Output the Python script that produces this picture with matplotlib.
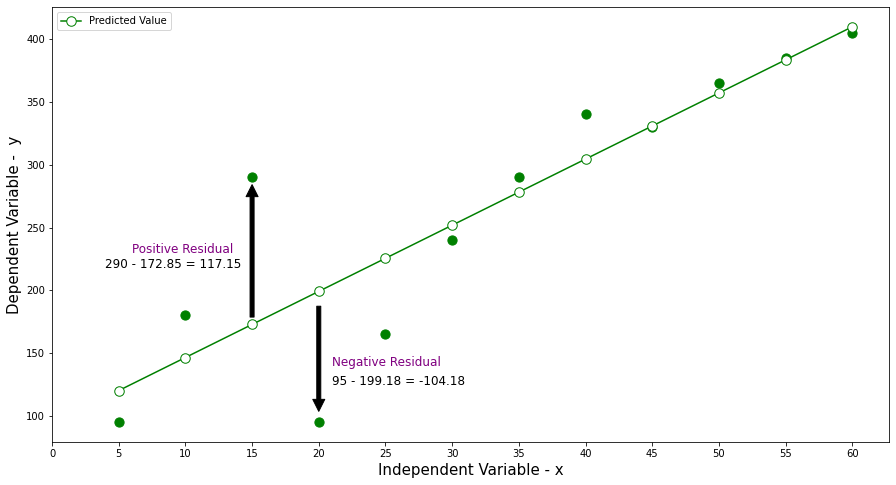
import matplotlib
matplotlib.use('Agg')
import numpy as np
import matplotlib.pyplot as plt

# Datos
x = [5, 10, 15, 20, 25, 30, 35, 40, 45, 50, 55, 60]
y = [95, 180, 290, 95, 165, 240, 290, 340, 330, 365, 385, 405]
y_pred = [120.19, 146.52, 172.85, 199.18, 225.51, 251.84,
          278.17, 304.50, 330.83, 357.16, 383.49, 409.82]

plt.figure(figsize=(896/72, 485/72), dpi=72)
plt.scatter(x, y, color='green', s=85)
plt.plot(x, y_pred, color='green', marker='o', markersize=9.5,
         markerfacecolor='white', label='Predicted Value')

# Residuales
plt.annotate('', xy=(15, 290), xytext=(15, 172.85),
             arrowprops=dict(facecolor='black', shrink=0.05))
plt.annotate('', xy=(20, 99), xytext=(20, 192),
             arrowprops=dict(facecolor='black', shrink=0.05))
plt.text(6, 229.5, 'Positive Residual', color='purple', fontsize=12)
plt.text(4, 218, '290 - 172.85 = 117.15', color='black', fontsize=12)
plt.text(21, 140, 'Negative Residual', color='purple', fontsize=12)
plt.text(21, 125, '95 - 199.18 = -104.18', color='black', fontsize=12)

plt.xlim(left=0)
plt.xticks(np.arange(0, 61, 5))
plt.xlabel('Independent Variable - x', fontsize=15)
plt.ylabel('Dependent Variable -  y', fontsize=15)
plt.legend(loc='upper left')
plt.subplots_adjust(left=52/896, right=889/896, top=1-7/485, bottom=1-442/485)
plt.savefig('out.png', dpi=72)
